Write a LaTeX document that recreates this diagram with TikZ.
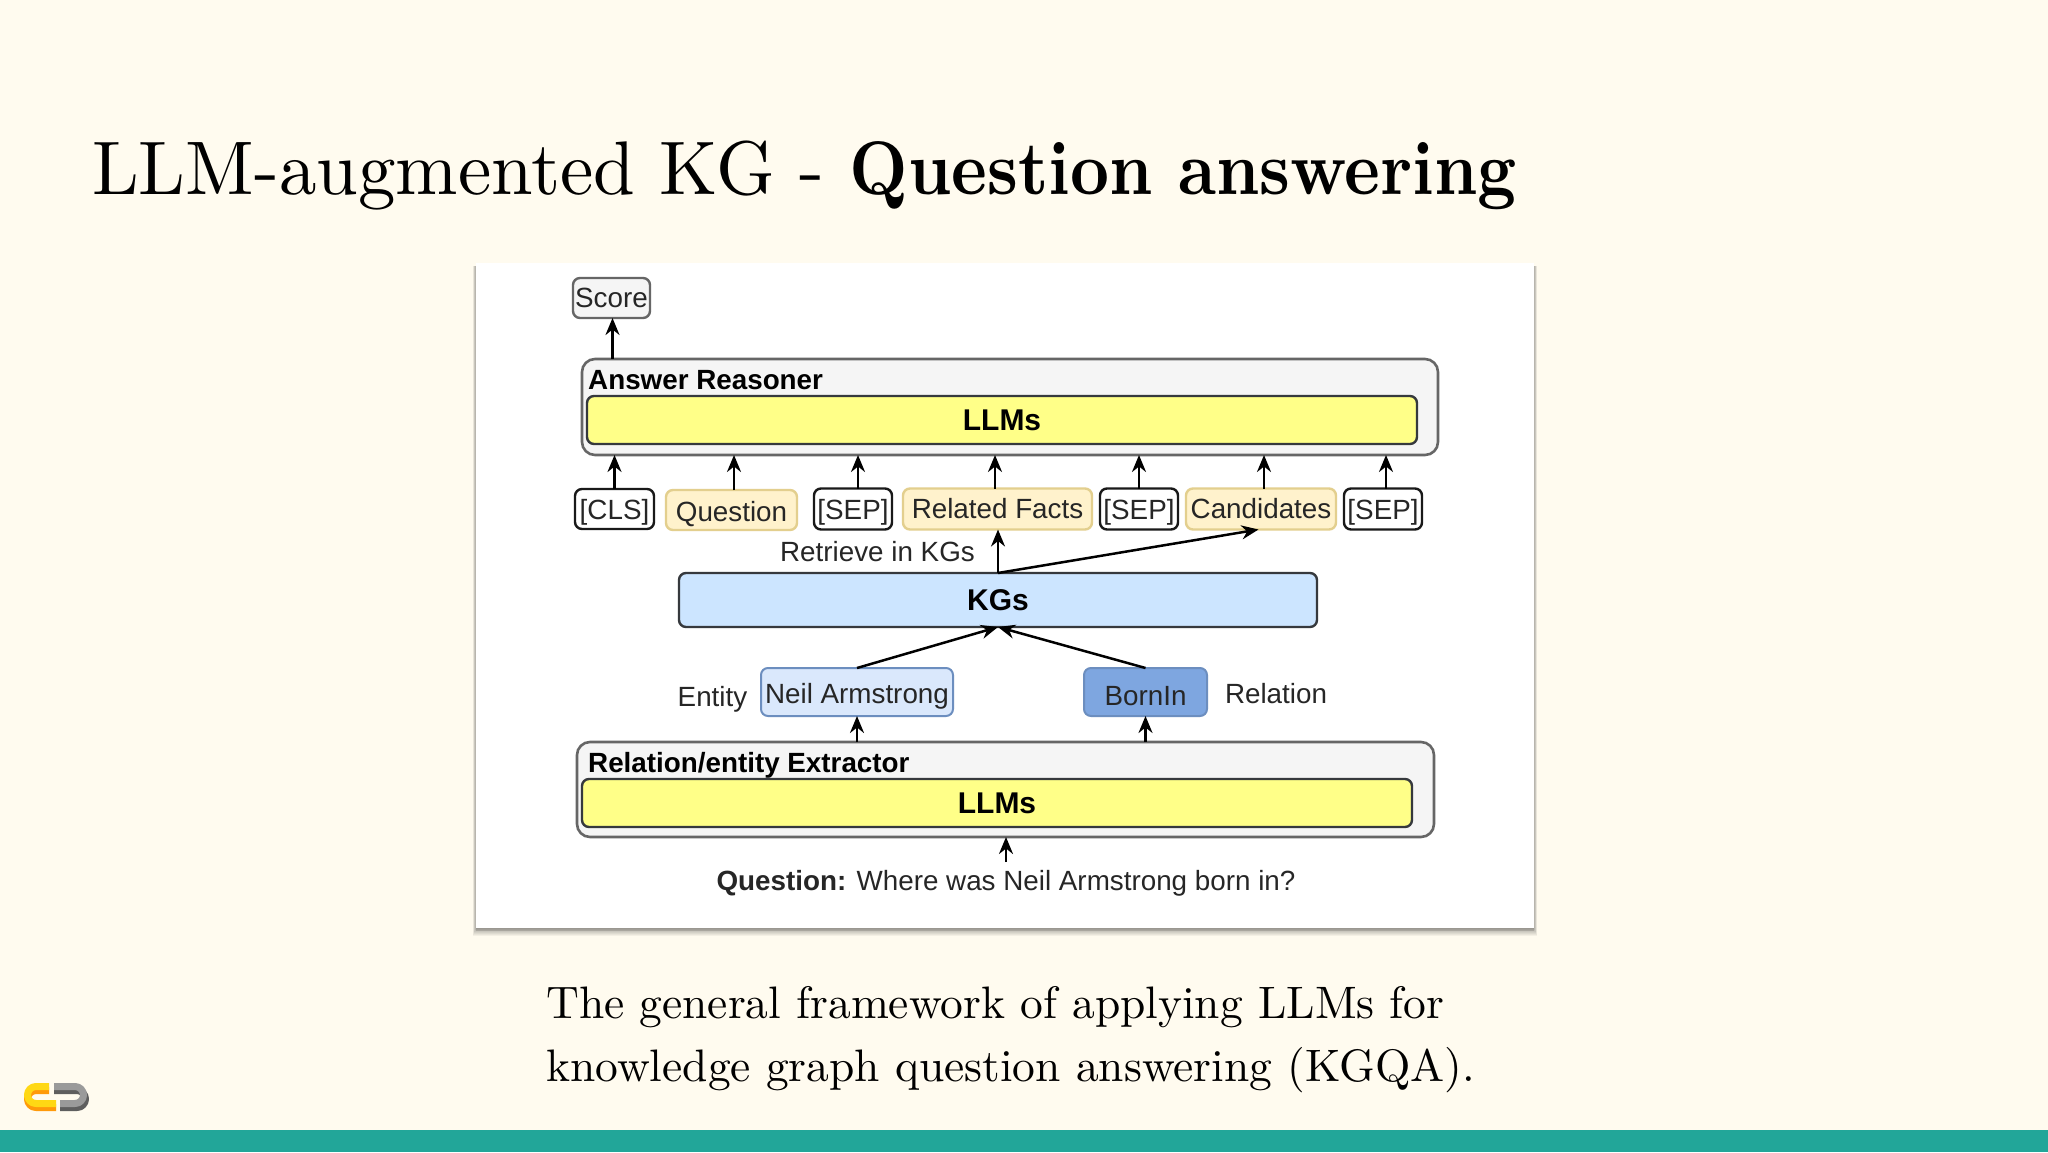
\documentclass[tikz,border=0pt]{standalone}
\usepackage{fontspec}
\setsansfont{Liberation Sans}
\newfontfamily\lmten[BoldFont=lmroman10-bold.otf]{lmroman10-regular.otf}
\usetikzlibrary{arrows.meta}
\newcommand{\dropt}[2]{\raisebox{-#1pt}[\height][\depth]{#2}}
\definecolor{bgc}{HTML}{FFFBEF}
\definecolor{barc}{HTML}{22A699}
\definecolor{grayf}{HTML}{F5F5F5}
\definecolor{grayd}{HTML}{666666}
\definecolor{yel}{HTML}{FFFF88}
\definecolor{dark}{HTML}{36393D}
\definecolor{kgf}{HTML}{CCE5FF}
\definecolor{neilf}{HTML}{DAE8FC}
\definecolor{blued}{HTML}{6C8EBF}
\definecolor{bornf}{HTML}{7EA6E0}
\definecolor{tokf}{HTML}{FFF2CC}
\definecolor{tokd}{HTML}{E3CF8E}
\definecolor{logoy}{HTML}{FFD814}
\definecolor{logoo}{HTML}{FF9A0A}
\definecolor{logog}{HTML}{9A9A9A}
\definecolor{logod}{HTML}{5E5E5E}
\tikzset{
  x=1pt,y=-1pt,
  box/.style={rounded corners=7pt,inner sep=0pt,outer sep=0pt,font=\sffamily\fontsize{27.8}{30}\selectfont,text=black!85},
  outerbox/.style={box,draw=grayd,fill=grayf,line width=2.6pt,rounded corners=13pt},
  llmbox/.style={box,draw=dark,fill=yel,line width=2.4pt,font=\sffamily\bfseries\fontsize{30}{32}\selectfont,text=black},
  kgbox/.style={box,draw=dark,fill=kgf,line width=2.4pt,font=\sffamily\bfseries\fontsize{30}{32}\selectfont,text=black},
  sepbox/.style={box,draw=black!90,fill=white,line width=2.4pt},
  tokbox/.style={box,draw=tokd,fill=tokf,line width=2.4pt},
  scorebox/.style={box,draw=grayd,fill=grayf,line width=2.4pt},
  neilbox/.style={box,draw=blued,fill=neilf,line width=2pt},
  bornbox/.style={box,draw=blued,fill=bornf,line width=2pt},
  lab/.style={inner sep=0pt,font=\sffamily\fontsize{27.8}{30}\selectfont,text=black!85},
  blab/.style={inner sep=0pt,anchor=west,font=\sffamily\bfseries\fontsize{27.8}{30}\selectfont,text=black},
  arr/.style={draw=black,line width=2.5pt,-{Stealth[length=17pt,width=14pt]}},
  titletext/.style={inner sep=0pt,anchor=base west,font=\lmten\fontsize{76}{90}\selectfont,text=black},
  captext/.style={inner sep=0pt,anchor=base west,font=\lmten\fontsize{45.5}{54}\selectfont,text=black},
}
\begin{document}
\begin{tikzpicture}
\useasboundingbox (0,0) rectangle (2048,1152);
\fill[bgc] (0,0) rectangle (2048,1152);
\fill[barc] (0,1130) rectangle (2048,1152);
% title
\node[titletext] (title) at (92,194) {\scalebox{0.985}[1]{LLM-augmented KG -\ }\scalebox{0.893}[1]{\textbf{Question answering}}};
% panel with soft shadow
\foreach \s in {8,7,6,5,4,3,2,1}{
  \fill[black,opacity=0.045] (476-\s*0.4,266) rectangle (1534+\s*0.4,928+\s);
}
\fill[black,opacity=0.12] (476,928) rectangle (1534,931);
\fill[white] (476,263) rectangle (1534,928);
% caption
\node[captext] (capa) at (546,1018) {The general framework of applying LLMs for};
\node[captext] (capb) at (546,1081) {knowledge graph question answering (KGQA).};
% top part
\node[scorebox,minimum width=77pt,minimum height=40pt] (score) at (611.5,298) {Score};
\node[outerbox,minimum width=856pt,minimum height=96pt] (reasoner) at (1010,407) {};
\node[blab] (reasonerlab) at (588,380) {Answer Reasoner};
\node[llmbox,minimum width=830pt,minimum height=48pt] (llm1) at (1002,420) {LLMs};
\node[sepbox,minimum width=79pt,minimum height=40pt] (cls) at (614.5,509) {\dropt{3}{[CLS]}};
\node[tokbox,minimum width=131pt,minimum height=40pt] (question) at (731.5,510) {\dropt{4}{Question}};
\node[sepbox,minimum width=78pt,minimum height=41pt] (sepa) at (853,509) {\dropt{3}{[SEP]}};
\node[tokbox,minimum width=189pt,minimum height=41pt] (facts) at (997.5,509) {Related Facts};
\node[sepbox,minimum width=78pt,minimum height=41pt] (sepb) at (1139,509) {\dropt{3}{[SEP]}};
\node[tokbox,minimum width=150pt,minimum height=41pt] (cand) at (1261,509) {Candidates};
\node[sepbox,minimum width=78pt,minimum height=41pt] (sepc) at (1383,509) {\dropt{3}{[SEP]}};
\node[lab] (retrieve) at (877.5,552) {Retrieve in KGs};
\node[kgbox,minimum width=638pt,minimum height=54pt] (kgs) at (998,600) {KGs};
\node[neilbox,minimum width=192pt,minimum height=48pt] (neil) at (857,692) {\dropt{4}{Neil Armstrong}};
\node[bornbox,minimum width=123pt,minimum height=48pt] (born) at (1145.5,692) {\dropt{4}{BornIn}};
\node[lab] (entity) at (712.5,699.5) {Entity};
\node[lab] (relation) at (1276,694) {Relation};
\node[outerbox,minimum width=857pt,minimum height=95pt] (extractor) at (1005.5,789.5) {};
\node[blab] (extractorlab) at (588,765) {Relation/entity Extractor};
\node[llmbox,minimum width=830pt,minimum height=48pt] (llm2) at (997,803) {LLMs};
\node[lab] (qtext) at (1006,883) {\textbf{Question:} Where was Neil Armstrong born in?};
% connectors
\draw[arr] ([xshift=1pt]reasoner.north -| score.south) -- ([xshift=1pt]score.south);
\draw[arr] (cls.north) -- (cls.north |- reasoner.south);
\draw[arr] ([xshift=2.5pt]question.north) -- ([xshift=2.5pt]question.north |- reasoner.south);
\draw[arr] ([xshift=5pt]sepa.north) -- ([xshift=5pt]sepa.north |- reasoner.south);
\draw[arr] ([xshift=-2.5pt]facts.north) -- ([xshift=-2.5pt]facts.north |- reasoner.south);
\draw[arr] (sepb.north) -- (sepb.north |- reasoner.south);
\draw[arr] ([xshift=3pt]cand.north) -- ([xshift=3pt]cand.north |- reasoner.south);
\draw[arr] ([xshift=3pt]sepc.north) -- ([xshift=3pt]sepc.north |- reasoner.south);
\draw[arr] (kgs.north) -- (kgs.north |- facts.south);
\draw[arr] (kgs.north) -- ([xshift=-2.5pt]cand.south);
\draw[arr] (neil.north) -- (kgs.south);
\draw[arr] (born.north) -- (kgs.south);
\draw[arr] (extractor.north -| neil.south) -- (neil.south);
\draw[arr] (extractor.north -| born.south) -- (born.south);
\draw[arr] (qtext.north |- 0,862) -- (qtext.north |- extractor.south);
% logo
\begin{scope}[line cap=butt,line join=round]
\draw[logoo,line width=7pt] (49,1090.5) -- (36,1090.5) arc[start angle=-90,end angle=-270,radius=8.5] -- (56,1107.5);
\draw[logoy,line width=7pt] (49,1086.5) -- (36,1086.5) arc[start angle=-90,end angle=-270,radius=8.5] -- (56,1103.5);
\draw[logod,line width=7pt] (54,1090.5) -- (77,1090.5) arc[start angle=-90,end angle=90,radius=8.5] -- (60,1107.5);
\draw[logog,line width=7pt] (54,1086.5) -- (75,1086.5) arc[start angle=-90,end angle=90,radius=8.5] -- (60,1103.5);
\end{scope}
\end{tikzpicture}
\end{document}
